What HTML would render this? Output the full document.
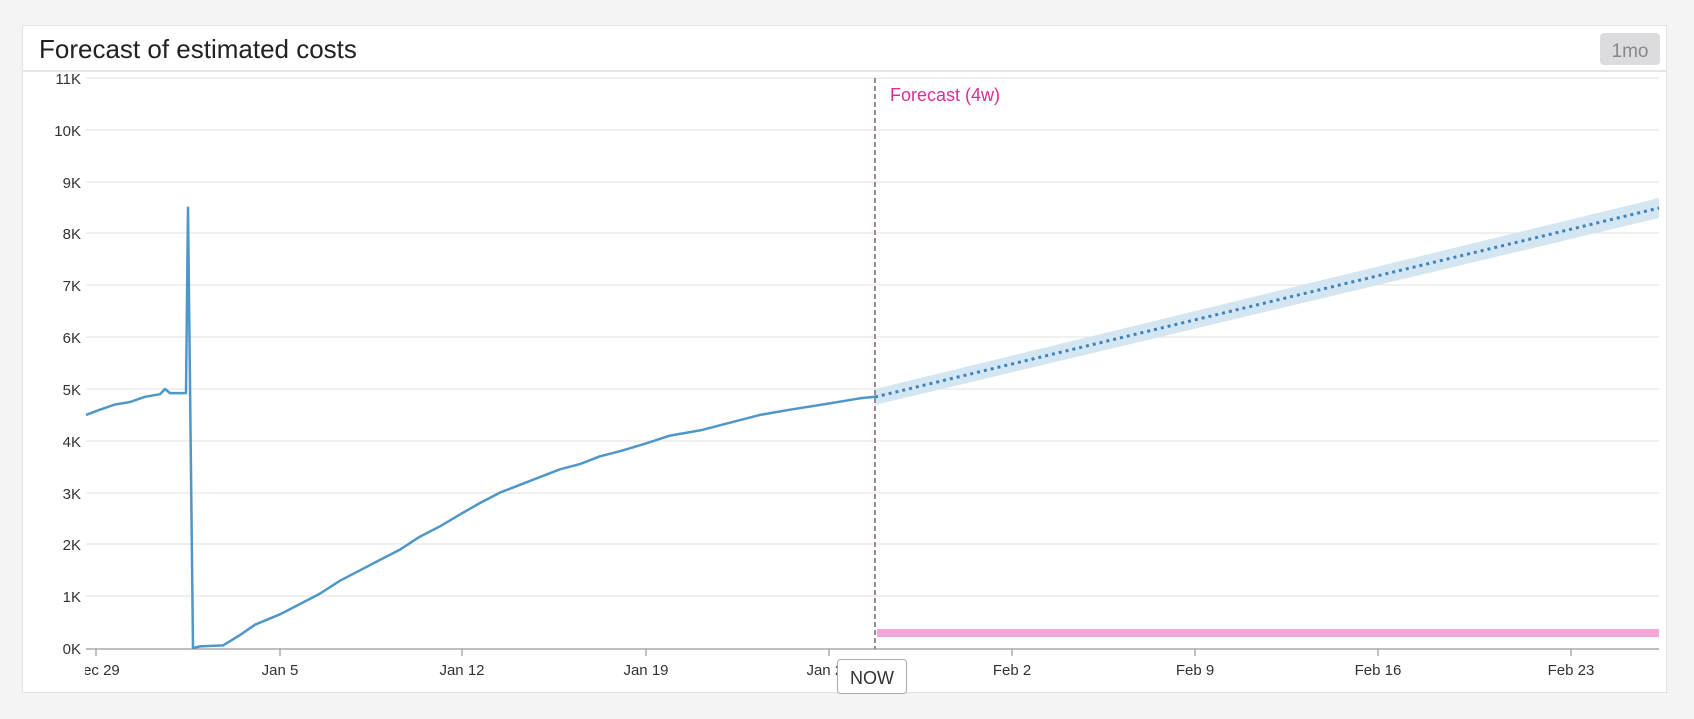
<!DOCTYPE html>
<html><head><style>
body{margin:0;background:#f4f4f4;width:1694px;height:719px;overflow:hidden;font-family:"Liberation Sans",sans-serif}
</style></head><body>
<svg width="1694" height="719" xmlns="http://www.w3.org/2000/svg" style="position:absolute;left:0;top:0">
<rect x="22.5" y="25.5" width="1644" height="667" fill="#fff" stroke="#e2e2e2"/>
<text x="39" y="58" font-size="26" fill="#222">Forecast of estimated costs</text>
<line x1="23" y1="71" x2="1666" y2="71" stroke="#ddd" stroke-width="1.5"/>
<rect x="1600" y="33" width="60" height="32" rx="4" fill="#dcdcdf"/>
<text x="1630" y="57" font-size="19" fill="#888" text-anchor="middle">1mo</text>
<g stroke="#e6e6e6" stroke-width="1.2">
<line x1="86" y1="78" x2="1659" y2="78"/><line x1="86" y1="130" x2="1659" y2="130"/>
<line x1="86" y1="182" x2="1659" y2="182"/><line x1="86" y1="233" x2="1659" y2="233"/>
<line x1="86" y1="285" x2="1659" y2="285"/><line x1="86" y1="337" x2="1659" y2="337"/>
<line x1="86" y1="389" x2="1659" y2="389"/><line x1="86" y1="441" x2="1659" y2="441"/>
<line x1="86" y1="493" x2="1659" y2="493"/><line x1="86" y1="544" x2="1659" y2="544"/>
<line x1="86" y1="596" x2="1659" y2="596"/>
</g>
<line x1="86" y1="649" x2="1659" y2="649" stroke="#999" stroke-width="1.2"/>
<g font-size="15" fill="#333" text-anchor="end">
<text x="81" y="84">11K</text><text x="81" y="136">10K</text><text x="81" y="188">9K</text>
<text x="81" y="239">8K</text><text x="81" y="291">7K</text><text x="81" y="343">6K</text>
<text x="81" y="395">5K</text><text x="81" y="447">4K</text><text x="81" y="499">3K</text>
<text x="81" y="550">2K</text><text x="81" y="602">1K</text><text x="81" y="654">0K</text>
</g>
<g stroke="#999" stroke-width="1.2">
<line x1="96" y1="649" x2="96" y2="656"/><line x1="280" y1="649" x2="280" y2="656"/>
<line x1="462" y1="649" x2="462" y2="656"/><line x1="646" y1="649" x2="646" y2="656"/>
<line x1="829" y1="649" x2="829" y2="656"/><line x1="1012" y1="649" x2="1012" y2="656"/>
<line x1="1195" y1="649" x2="1195" y2="656"/><line x1="1378" y1="649" x2="1378" y2="656"/>
<line x1="1571" y1="649" x2="1571" y2="656"/>
</g>
<g font-size="15" fill="#333" text-anchor="middle">
<text x="96" y="675">Dec 29</text><text x="280" y="675">Jan 5</text><text x="462" y="675">Jan 12</text>
<text x="646" y="675">Jan 19</text><text x="829" y="675">Jan 26</text><text x="1012" y="675">Feb 2</text>
<text x="1195" y="675">Feb 9</text><text x="1378" y="675">Feb 16</text><text x="1571" y="675">Feb 23</text>
</g>
<rect x="23" y="660" width="62" height="30" fill="#fff"/>
<rect x="877" y="629" width="782" height="8" fill="#f2a8d6"/>
<polygon points="875,389 1659,198 1659,218 875,405" fill="#d5e6f3"/>
<line x1="875" y1="397" x2="1659" y2="208" stroke="#3d84bd" stroke-width="3" stroke-dasharray="3,4"/>
<polyline fill="none" stroke="#4f97c8" stroke-width="2.5" stroke-linejoin="round" points="86,414.9 100,409.7 115,404.5 130,402 145,396.8 160,394.2 165,389 170,393.1 186,393.1 188,207.7 193,648 200,646.4 223,645.4 240,635 255,624.7 280,614.3 300,604 320,593.6 340,580.7 360,570.3 380,559.9 400,549.6 420,536.6 440,526.3 462,513.3 480,503 500,492.6 520,484.8 540,477.1 560,469.3 580,464.1 600,456.3 620,451.2 646,443.4 670,435.6 700,430.4 730,422.7 760,414.9 790,409.7 829,403.5 860,398.3 875,396.8"/>
<line x1="875" y1="78" x2="875" y2="649" stroke="#a0889a" stroke-width="2" stroke-dasharray="5,3"/>
<text x="890" y="101" font-size="18" fill="#d92e9a">Forecast (4w)</text>
<rect x="837.5" y="659.5" width="69" height="34" rx="3" fill="#fff" stroke="#aaa"/>
<text x="872" y="684" font-size="18" fill="#333" text-anchor="middle">NOW</text>
</svg>
</body></html>
